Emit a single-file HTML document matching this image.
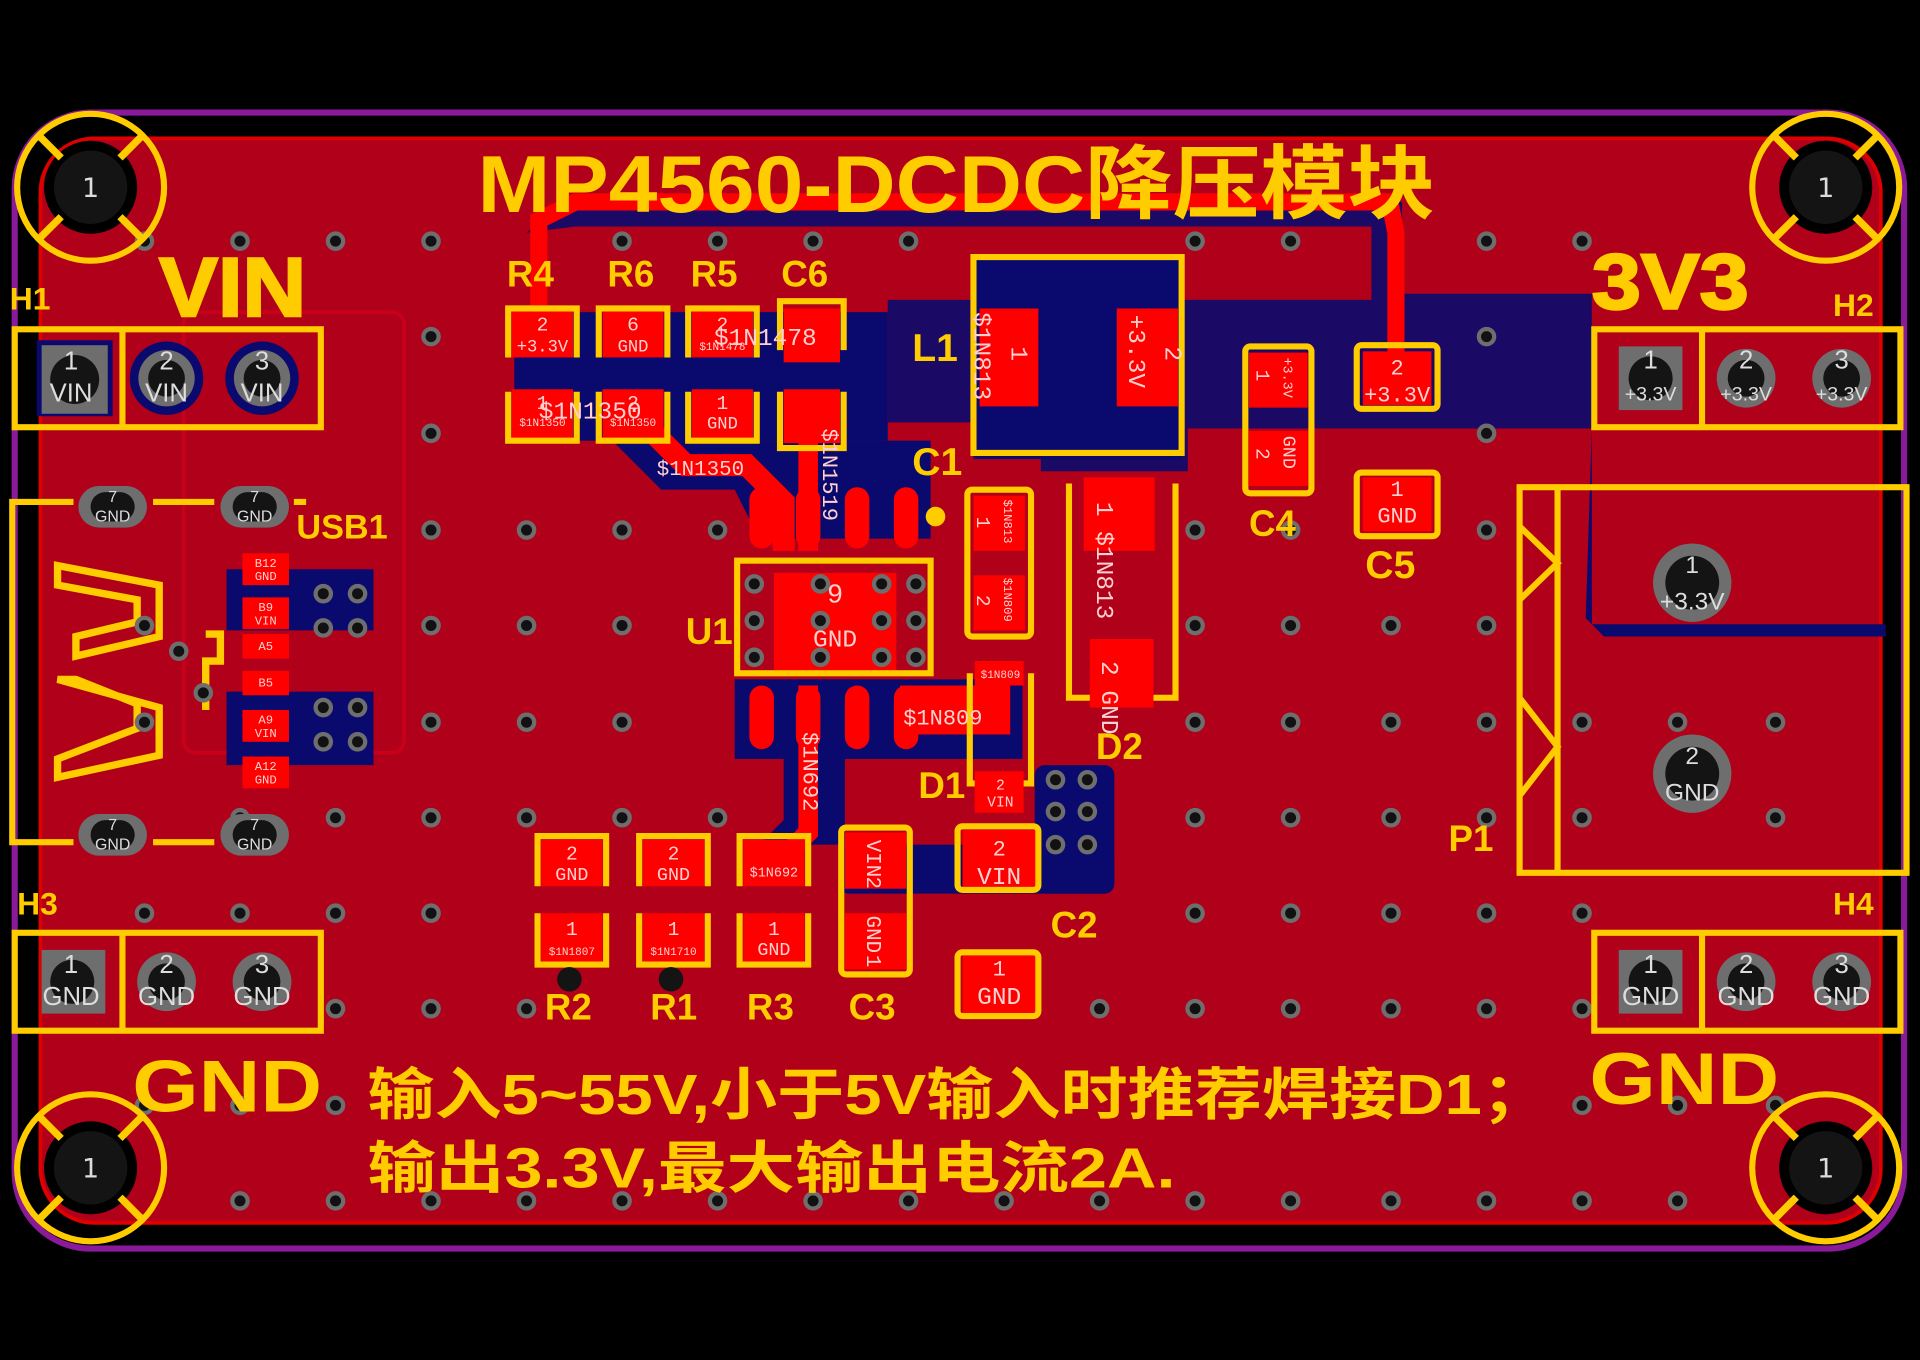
<!DOCTYPE html>
<html><head><meta charset="utf-8"><style>
html,body{margin:0;padding:0;background:#000;}
svg{display:block}
text{font-family:"Liberation Sans","Noto Sans CJK SC",sans-serif}
text.m{font-family:"Liberation Mono","DejaVu Sans Mono",monospace;fill:#ffd0d0}
.y{fill:#ffcc00;font-weight:bold}
.s{fill:none;stroke:#ffcc00;stroke-width:5}
</style></head><body>
<svg width="1920" height="1360" viewBox="0 0 1568 1111" preserveAspectRatio="none" xmlns="http://www.w3.org/2000/svg">
<defs>
<g id="v"><circle r="8" fill="#6e6e6e"/><circle r="4.5" fill="#111"/></g>
<g id="mh"><circle r="60" fill="none" stroke="#ffcc00" stroke-width="5"/><circle r="38" fill="#000"/><circle r="30" fill="#141414"/>
<line x1="-44" y1="-44" x2="-24" y2="-24" stroke="#ffcc00" stroke-width="6"/><line x1="44" y1="-44" x2="24" y2="-24" stroke="#ffcc00" stroke-width="6"/>
<line x1="-44" y1="44" x2="-24" y2="24" stroke="#ffcc00" stroke-width="6"/><line x1="44" y1="44" x2="24" y2="24" stroke="#ffcc00" stroke-width="6"/>
<text y="8" text-anchor="middle" font-size="22" fill="#ddd" style="font-family:'DejaVu Sans',sans-serif">1</text></g>
</defs>
<rect width="1568" height="1111" fill="#000"/>
<rect x="12" y="92" width="1543" height="928" rx="62" fill="#000" stroke="#8a1a9a" stroke-width="5"/>
<rect x="33" y="113" width="1503" height="886" rx="44" fill="#b0001a" stroke="#e00000" stroke-width="3"/>
<rect x="150" y="255" width="180" height="360" rx="10" fill="none" stroke="#c8001a" stroke-width="3"/>
<!-- blue copper areas -->
<path d="M430 190 L460 165 L1145 165 L1145 240 L1300 240 L1300 350 L970 350 L970 385 L850 385 L850 345 L725 345 L725 245 L1120 245 L1120 185 L470 185 Z" fill="#0a0a6e" opacity="0.9"/>
<path d="M1300 350 L1300 510 L1540 510 L1540 520 L1310 520 L1295 505 Z" fill="#0a0a6e"/>
<rect x="795" y="210" width="170" height="165" fill="#0a0a6e"/>
<rect x="420" y="255" width="305" height="105" fill="#0a0a6e"/>
<path d="M500 360 L540 400 L600 400 L620 440 L760 440 L760 360 Z" fill="#0a0a6e"/>
<rect x="600" y="555" width="235" height="65" fill="#0a0a6e"/>
<path d="M640 555 L640 670 L620 690 L690 690 L690 555 Z" fill="#0a0a6e"/>
<rect x="845" y="625" width="65" height="105" rx="8" fill="#0a0a6e"/>
<rect x="685" y="690" width="225" height="40" rx="8" fill="#0a0a6e"/>
<path d="M185 465 h120 v50 h-120 z M185 565 h120 v60 h-120 z" fill="#0a0a6e"/>
<!-- red traces -->
<path d="M440 285 L440 180 L470 165 L1135 165 L1140 190 L1140 295" fill="none" stroke="#ff0000" stroke-width="14"/>
<path d="M510 330 L560 380 L610 380 L640 410 L640 450" fill="none" stroke="#ff0000" stroke-width="18"/>
<path d="M660 340 L660 450" stroke="#ff0000" stroke-width="16"/>
<path d="M660 560 L660 680 L640 700" fill="none" stroke="#ff0000" stroke-width="16"/>
<rect x="735" y="560" width="90" height="40" fill="#ff0000"/>
<!-- vias grid -->
<g>
<use href="#v" x="118" y="197"/><use href="#v" x="196" y="197"/><use href="#v" x="274" y="197"/><use href="#v" x="352" y="197"/><use href="#v" x="508" y="197"/><use href="#v" x="586" y="197"/><use href="#v" x="664" y="197"/><use href="#v" x="742" y="197"/><use href="#v" x="976" y="197"/><use href="#v" x="1054" y="197"/><use href="#v" x="1214" y="197"/><use href="#v" x="1292" y="197"/>
<use href="#v" x="352" y="275"/><use href="#v" x="352" y="354"/><use href="#v" x="1214" y="275"/><use href="#v" x="1214" y="354"/>
<use href="#v" x="352" y="433"/><use href="#v" x="430" y="433"/><use href="#v" x="508" y="433"/><use href="#v" x="586" y="433"/><use href="#v" x="976" y="433"/><use href="#v" x="1054" y="433"/><use href="#v" x="1214" y="433"/>
<use href="#v" x="352" y="511"/><use href="#v" x="430" y="511"/><use href="#v" x="508" y="511"/><use href="#v" x="976" y="511"/><use href="#v" x="1054" y="511"/><use href="#v" x="1136" y="511"/><use href="#v" x="1214" y="511"/>
<use href="#v" x="352" y="590"/><use href="#v" x="430" y="590"/><use href="#v" x="508" y="590"/><use href="#v" x="976" y="590"/><use href="#v" x="1054" y="590"/><use href="#v" x="1136" y="590"/><use href="#v" x="1214" y="590"/><use href="#v" x="1292" y="590"/><use href="#v" x="1370" y="590"/><use href="#v" x="1450" y="590"/>
<use href="#v" x="196" y="668"/><use href="#v" x="274" y="668"/><use href="#v" x="352" y="668"/><use href="#v" x="430" y="668"/><use href="#v" x="508" y="668"/><use href="#v" x="586" y="668"/><use href="#v" x="976" y="668"/><use href="#v" x="1054" y="668"/><use href="#v" x="1136" y="668"/><use href="#v" x="1214" y="668"/><use href="#v" x="1292" y="668"/><use href="#v" x="1450" y="668"/>
<use href="#v" x="118" y="746"/><use href="#v" x="196" y="746"/><use href="#v" x="274" y="746"/><use href="#v" x="352" y="746"/><use href="#v" x="976" y="746"/><use href="#v" x="1054" y="746"/><use href="#v" x="1136" y="746"/><use href="#v" x="1214" y="746"/><use href="#v" x="1292" y="746"/>
<use href="#v" x="274" y="824"/><use href="#v" x="352" y="824"/><use href="#v" x="430" y="824"/><use href="#v" x="898" y="824"/><use href="#v" x="976" y="824"/><use href="#v" x="1054" y="824"/><use href="#v" x="1136" y="824"/><use href="#v" x="1214" y="824"/><use href="#v" x="1292" y="824"/>
<use href="#v" x="118" y="903"/><use href="#v" x="196" y="903"/><use href="#v" x="274" y="903"/><use href="#v" x="1292" y="903"/><use href="#v" x="1370" y="903"/><use href="#v" x="1450" y="903"/>
<use href="#v" x="196" y="981"/><use href="#v" x="274" y="981"/><use href="#v" x="352" y="981"/><use href="#v" x="430" y="981"/><use href="#v" x="508" y="981"/><use href="#v" x="586" y="981"/><use href="#v" x="664" y="981"/><use href="#v" x="742" y="981"/><use href="#v" x="820" y="981"/><use href="#v" x="898" y="981"/><use href="#v" x="976" y="981"/><use href="#v" x="1054" y="981"/><use href="#v" x="1136" y="981"/><use href="#v" x="1214" y="981"/><use href="#v" x="1292" y="981"/><use href="#v" x="1370" y="981"/>
</g>
<use href="#mh" x="74" y="153"/><use href="#mh" x="1491" y="153"/><use href="#mh" x="74" y="954"/><use href="#mh" x="1491" y="954"/>
<!-- titles -->
<text x="390" y="173" font-size="66" class="y" textLength="782" lengthAdjust="spacingAndGlyphs">MP4560-DCDC降压模块</text>
<text x="130" y="258" font-size="68" class="y" textLength="120" lengthAdjust="spacingAndGlyphs" stroke="#ffcc00" stroke-width="2">VIN</text>
<text x="1300" y="252" font-size="64" class="y" textLength="128" lengthAdjust="spacingAndGlyphs" stroke="#ffcc00" stroke-width="2">3V3</text>
<text x="108" y="908" font-size="60" class="y" textLength="155" lengthAdjust="spacingAndGlyphs">GND</text>
<text x="1298" y="902" font-size="60" class="y" textLength="155" lengthAdjust="spacingAndGlyphs">GND</text>
<text x="300" y="910" font-size="46" class="y" textLength="965" lengthAdjust="spacingAndGlyphs">输入5~55V,小于5V输入时推荐焊接D1；</text>
<text x="300" y="970" font-size="46" class="y" textLength="660" lengthAdjust="spacingAndGlyphs">输出3.3V,最大输出电流2A.</text>
<!-- headers -->
<g font-size="24">
<text x="8" y="253" class="y" font-size="26">H1</text>
<rect x="12" y="269" width="250" height="80" class="s"/><line x1="100" y1="269" x2="100" y2="349" class="s"/>
<rect x="30" y="278" width="62" height="62" fill="#0a0a6e"/><rect x="34" y="282" width="54" height="56" fill="#6e6e6e"/><circle cx="61" cy="310" r="20" fill="#141414"/>
<circle cx="136" cy="309" r="30" fill="#0a0a6e"/><circle cx="136" cy="309" r="23" fill="#6e6e6e"/><circle cx="136" cy="309" r="15" fill="#141414"/>
<circle cx="214" cy="309" r="30" fill="#0a0a6e"/><circle cx="214" cy="309" r="23" fill="#6e6e6e"/><circle cx="214" cy="309" r="15" fill="#141414"/>
<g fill="#ddd" text-anchor="middle" font-size="21" style="font-family:'DejaVu Sans',sans-serif"><text x="58" y="302">1</text><text x="58" y="328">VIN</text><text x="136" y="302">2</text><text x="136" y="328">VIN</text><text x="214" y="302">3</text><text x="214" y="328">VIN</text></g>
<text x="14" y="747" class="y" font-size="26">H3</text>
<rect x="12" y="762" width="250" height="80" class="s"/><line x1="100" y1="762" x2="100" y2="842" class="s"/>
<rect x="34" y="776" width="52" height="52" fill="#6e6e6e"/><circle cx="59" cy="802" r="18" fill="#141414"/>
<circle cx="136" cy="802" r="24" fill="#6e6e6e"/><circle cx="136" cy="802" r="15" fill="#141414"/>
<circle cx="214" cy="802" r="24" fill="#6e6e6e"/><circle cx="214" cy="802" r="15" fill="#141414"/>
<g fill="#ddd" text-anchor="middle" font-size="21" style="font-family:'DejaVu Sans',sans-serif"><text x="58" y="795">1</text><text x="58" y="821">GND</text><text x="136" y="795">2</text><text x="136" y="821">GND</text><text x="214" y="795">3</text><text x="214" y="821">GND</text></g>
<text x="1497" y="258" class="y" font-size="26">H2</text>
<rect x="1302" y="269" width="250" height="80" class="s"/><line x1="1390" y1="269" x2="1390" y2="349" class="s"/>
<rect x="1322" y="283" width="52" height="52" fill="#6e6e6e"/><circle cx="1348" cy="309" r="18" fill="#141414"/>
<circle cx="1426" cy="309" r="24" fill="#6e6e6e"/><circle cx="1426" cy="309" r="15" fill="#141414"/>
<circle cx="1504" cy="309" r="24" fill="#6e6e6e"/><circle cx="1504" cy="309" r="15" fill="#141414"/>
<g fill="#ddd" text-anchor="middle" font-size="16" style="font-family:'DejaVu Sans',sans-serif"><text x="1348" y="301" font-size="21">1</text><text x="1348" y="327">+3.3V</text><text x="1426" y="301" font-size="21">2</text><text x="1426" y="327">+3.3V</text><text x="1504" y="301" font-size="21">3</text><text x="1504" y="327">+3.3V</text></g>
<text x="1497" y="747" class="y" font-size="26">H4</text>
<rect x="1302" y="762" width="250" height="80" class="s"/><line x1="1390" y1="762" x2="1390" y2="842" class="s"/>
<rect x="1322" y="776" width="52" height="52" fill="#6e6e6e"/><circle cx="1348" cy="802" r="18" fill="#141414"/>
<circle cx="1426" cy="802" r="24" fill="#6e6e6e"/><circle cx="1426" cy="802" r="15" fill="#141414"/>
<circle cx="1504" cy="802" r="24" fill="#6e6e6e"/><circle cx="1504" cy="802" r="15" fill="#141414"/>
<g fill="#ddd" text-anchor="middle" font-size="21" style="font-family:'DejaVu Sans',sans-serif"><text x="1348" y="795">1</text><text x="1348" y="821">GND</text><text x="1426" y="795">2</text><text x="1426" y="821">GND</text><text x="1504" y="795">3</text><text x="1504" y="821">GND</text></g>
</g>
<!-- USB -->
<path d="M60 410 H10 V688 H60 M125 410 H175 M240 410 H250 M125 688 H175" class="s"/>
<g fill="#6e6e6e"><rect x="64" y="397" width="56" height="34" rx="17"/><rect x="180" y="397" width="56" height="34" rx="17"/><rect x="64" y="665" width="56" height="34" rx="17"/><rect x="180" y="665" width="56" height="34" rx="17"/></g>
<g fill="#141414"><rect x="74" y="402" width="36" height="24" rx="12"/><rect x="190" y="402" width="36" height="24" rx="12"/><rect x="74" y="670" width="36" height="24" rx="12"/><rect x="190" y="670" width="36" height="24" rx="12"/></g>
<g fill="#ddd" text-anchor="middle" font-size="13" style="font-family:'DejaVu Sans',sans-serif"><text x="92" y="410">7</text><text x="92" y="426">GND</text><text x="208" y="410">7</text><text x="208" y="426">GND</text><text x="92" y="678">7</text><text x="92" y="694">GND</text><text x="208" y="678">7</text><text x="208" y="694">GND</text></g>
<path d="M47 462 L130 478 L130 520 L62 536 L62 520 L112 508 L112 490 L47 478 Z M47 555 L62 555 L112 575 L112 595 L47 620 L47 635 L130 617 L130 578 Z" fill="none" stroke="#ffcc00" stroke-width="6"/>
<g fill="#ff0000"><rect x="198" y="452" width="38" height="26"/><rect x="198" y="488" width="38" height="26"/><rect x="198" y="518" width="38" height="20"/><rect x="198" y="548" width="38" height="20"/><rect x="198" y="580" width="38" height="26"/><rect x="198" y="618" width="38" height="26"/></g>
<g class="m" text-anchor="middle" font-size="10"><text class="m" x="217" y="463">B12</text><text class="m" x="217" y="474">GND</text><text class="m" x="217" y="499">B9</text><text class="m" x="217" y="510">VIN</text><text class="m" x="217" y="531">A5</text><text class="m" x="217" y="561">B5</text><text class="m" x="217" y="591">A9</text><text class="m" x="217" y="602">VIN</text><text class="m" x="217" y="629">A12</text><text class="m" x="217" y="640">GND</text></g>
<path d="M168 518 H180 V540 H168 V580" fill="none" stroke="#ffcc00" stroke-width="6"/>
<use href="#v" x="118" y="511"/><use href="#v" x="118" y="590"/><use href="#v" x="146" y="532"/><use href="#v" x="166" y="566"/>
<use href="#v" x="264" y="485"/><use href="#v" x="292" y="485"/><use href="#v" x="264" y="513"/><use href="#v" x="292" y="513"/><use href="#v" x="264" y="578"/><use href="#v" x="292" y="578"/><use href="#v" x="264" y="606"/><use href="#v" x="292" y="606"/>
<text x="242" y="440" class="y" font-size="28">USB1</text>
<!-- R4 R6 R5 C6 -->
<g class="y" font-size="30"><text x="414" y="234">R4</text><text x="496" y="234">R6</text><text x="564" y="234">R5</text><text x="638" y="234">C6</text></g>
<g fill="#ff0000"><rect x="418" y="254" width="50" height="38"/><rect x="492" y="254" width="50" height="38"/><rect x="565" y="254" width="50" height="38"/><rect x="640" y="252" width="46" height="44"/>
<rect x="418" y="318" width="50" height="40"/><rect x="492" y="318" width="50" height="40"/><rect x="565" y="318" width="50" height="40"/><rect x="640" y="318" width="46" height="44"/></g>
<g class="s"><path d="M415 292 V252 H471 V292 M489 292 V252 H545 V292 M562 292 V252 H618 V292 M637 286 V246 H689 V286"/><path d="M415 320 V360 H471 V320 M489 320 V360 H545 V320 M562 320 V360 H618 V320 M637 320 V366 H689 V320"/></g>
<g text-anchor="middle"><text class="m" x="443" y="270" font-size="16">2</text><text class="m" x="443" y="287" font-size="14">+3.3V</text><text class="m" x="517" y="270" font-size="16">6</text><text class="m" x="517" y="287" font-size="14">GND</text><text class="m" x="590" y="270" font-size="16">2</text><text class="m" x="590" y="286" font-size="9">$1N1478</text>
<text class="m" x="443" y="334" font-size="16">1</text><text class="m" x="443" y="348" font-size="9">$1N1350</text><text class="m" x="517" y="334" font-size="16">2</text><text class="m" x="517" y="348" font-size="9">$1N1350</text><text class="m" x="590" y="334" font-size="16">1</text><text class="m" x="590" y="350" font-size="14">GND</text>
<text class="m" x="482" y="342" font-size="20">$1N1350</text><text class="m" x="572" y="388" font-size="17">$1N1350</text><text class="m" x="625" y="282" font-size="20">$1N1478</text></g>
<text class="m" font-size="18" transform="translate(672 350) rotate(90)">$1N1519</text>
<!-- U1 -->
<g fill="#ff0000"><rect x="612" y="398" width="20" height="50" rx="10"/><rect x="650" y="398" width="20" height="50" rx="10"/><rect x="690" y="398" width="20" height="50" rx="10"/><rect x="730" y="398" width="20" height="50" rx="10"/>
<rect x="612" y="560" width="20" height="52" rx="10"/><rect x="650" y="560" width="20" height="52" rx="10"/><rect x="690" y="560" width="20" height="52" rx="10"/><rect x="730" y="560" width="20" height="52" rx="10"/>
<rect x="632" y="468" width="100" height="80"/></g>
<rect x="602" y="458" width="158" height="92" class="s"/>
<circle cx="764" cy="422" r="8" fill="#ffcc00"/>
<text x="560" y="526" class="y" font-size="30">U1</text>
<g text-anchor="middle"><text class="m" x="682" y="492" font-size="22">9</text><text class="m" x="682" y="528" font-size="20">GND</text></g>
<use href="#v" x="616" y="477"/><use href="#v" x="670" y="477"/><use href="#v" x="720" y="477"/><use href="#v" x="748" y="477"/><use href="#v" x="616" y="507"/><use href="#v" x="670" y="507"/><use href="#v" x="720" y="507"/><use href="#v" x="748" y="507"/><use href="#v" x="616" y="537"/><use href="#v" x="670" y="537"/><use href="#v" x="720" y="537"/><use href="#v" x="748" y="537"/>
<!-- L1 -->
<text x="745" y="295" class="y" font-size="32">L1</text>
<rect x="795" y="210" width="170" height="160" class="s"/>
<rect x="800" y="252" width="48" height="80" fill="#ff0000"/><rect x="912" y="252" width="50" height="80" fill="#ff0000"/>
<text class="m" font-size="20" transform="translate(796 255) rotate(90)">$1N813</text>
<text class="m" font-size="20" transform="translate(826 283) rotate(90)">1</text>
<text class="m" font-size="20" transform="translate(922 257) rotate(90)">+3.3V</text>
<text class="m" font-size="20" transform="translate(952 283) rotate(90)">2</text>
<!-- C1 -->
<text x="745" y="388" class="y" font-size="32">C1</text>
<rect x="790" y="400" width="52" height="120" class="s" rx="4"/>
<rect x="795" y="405" width="42" height="45" fill="#ff0000"/><rect x="795" y="470" width="42" height="45" fill="#ff0000"/>
<text class="m" font-size="16" transform="translate(798 422) rotate(90)">1</text>
<text class="m" font-size="10" transform="translate(820 408) rotate(90)">$1N813</text>
<text class="m" font-size="16" transform="translate(798 486) rotate(90)">2</text>
<text class="m" font-size="10" transform="translate(820 472) rotate(90)">$1N809</text>
<!-- D2 -->
<path d="M873 395 V570 H960 V395" class="s"/>
<rect x="885" y="390" width="58" height="60" fill="#ff0000"/><rect x="890" y="522" width="52" height="56" fill="#ff0000"/>
<text class="m" font-size="20" transform="translate(896 410) rotate(90)">1 $1N813</text>
<text class="m" font-size="20" transform="translate(900 540) rotate(90)">2 GND</text>
<text x="895" y="620" class="y" font-size="30">D2</text>
<!-- D1 -->
<path d="M792 550 V640 H842 V550" class="s"/>
<rect x="796" y="540" width="40" height="20" fill="#ff0000"/><rect x="796" y="630" width="40" height="34" fill="#ff0000"/>
<g text-anchor="middle"><text class="m" x="817" y="554" font-size="9">$1N809</text><text class="m" x="817" y="645" font-size="12">2</text><text class="m" x="817" y="659" font-size="12">VIN</text><text class="m" x="770" y="592" font-size="18">$1N809</text></g>
<text x="750" y="652" class="y" font-size="30">D1</text>
<use href="#v" x="862" y="637"/><use href="#v" x="888" y="637"/><use href="#v" x="862" y="663"/><use href="#v" x="888" y="663"/><use href="#v" x="862" y="690"/><use href="#v" x="888" y="690"/>
<!-- C4 C5 -->
<rect x="1017" y="283" width="54" height="120" rx="4" class="s"/>
<rect x="1020" y="288" width="48" height="45" fill="#ff0000"/><rect x="1020" y="352" width="48" height="45" fill="#ff0000"/>
<text class="m" font-size="16" transform="translate(1026 302) rotate(90)">1</text>
<text class="m" font-size="11" transform="translate(1048 292) rotate(90)">+3.3V</text>
<text class="m" font-size="16" transform="translate(1026 366) rotate(90)">2</text>
<text class="m" font-size="15" transform="translate(1048 356) rotate(90)">GND</text>
<text x="1020" y="438" class="y" font-size="30">C4</text>
<rect x="1108" y="282" width="66" height="52" rx="4" class="s"/><rect x="1113" y="287" width="56" height="44" fill="#ff0000"/>
<g text-anchor="middle" font-size="18"><text class="m" x="1141" y="306">2</text><text class="m" x="1141" y="328">+3.3V</text></g>
<rect x="1108" y="386" width="66" height="52" rx="4" class="s"/><rect x="1113" y="390" width="56" height="44" fill="#ff0000"/>
<g text-anchor="middle" font-size="18"><text class="m" x="1141" y="405">1</text><text class="m" x="1141" y="427">GND</text></g>
<text x="1115" y="472" class="y" font-size="32">C5</text>
<!-- P1 -->
<rect x="1241" y="398" width="316" height="315" class="s"/><line x1="1272" y1="398" x2="1272" y2="713" class="s"/>
<path d="M1241 430 L1272 460 L1241 490 M1241 570 L1272 610 L1241 650" class="s"/>
<circle cx="1382" cy="476" r="32" fill="#6e6e6e"/><circle cx="1382" cy="476" r="22" fill="#141414"/>
<circle cx="1382" cy="632" r="32" fill="#6e6e6e"/><circle cx="1382" cy="632" r="22" fill="#141414"/>
<g fill="#ddd" text-anchor="middle" font-size="20" style="font-family:'DejaVu Sans',sans-serif"><text x="1382" y="468">1</text><text x="1382" y="498">+3.3V</text><text x="1382" y="624">2</text><text x="1382" y="654">GND</text></g>
<text x="1183" y="695" class="y" font-size="30">P1</text>
<!-- bottom -->
<g fill="#ff0000"><rect x="442" y="686" width="50" height="38"/><rect x="525" y="686" width="50" height="38"/><rect x="607" y="686" width="50" height="38"/>
<rect x="442" y="746" width="50" height="40"/><rect x="525" y="746" width="50" height="40"/><rect x="607" y="746" width="50" height="40"/>
<rect x="690" y="680" width="50" height="46"/><rect x="690" y="746" width="50" height="46"/><rect x="786" y="678" width="60" height="48"/><rect x="786" y="780" width="60" height="48"/></g>
<g class="s"><path d="M439 724 V683 H495 V724 M522 724 V683 H578 V724 M604 724 V683 H660 V724"/><path d="M439 746 V788 H495 V746 M522 746 V788 H578 V746 M604 746 V788 H660 V746"/>
<rect x="687" y="676" width="56" height="120" rx="4"/><rect x="782" y="675" width="66" height="52" rx="4"/><rect x="782" y="778" width="66" height="52" rx="4"/></g>
<g text-anchor="middle"><text class="m" x="467" y="702" font-size="16">2</text><text class="m" x="467" y="719" font-size="15">GND</text><text class="m" x="550" y="702" font-size="16">2</text><text class="m" x="550" y="719" font-size="15">GND</text><text class="m" x="632" y="716" font-size="11">$1N692</text>
<text class="m" x="467" y="764" font-size="16">1</text><text class="m" x="467" y="780" font-size="9">$1N1807</text><text class="m" x="550" y="764" font-size="16">1</text><text class="m" x="550" y="780" font-size="9">$1N1710</text><text class="m" x="632" y="764" font-size="16">1</text><text class="m" x="632" y="780" font-size="15">GND</text>
<text class="m" x="816" y="699" font-size="18">2</text><text class="m" x="816" y="722" font-size="20">VIN</text><text class="m" x="816" y="797" font-size="18">1</text><text class="m" x="816" y="820" font-size="20">GND</text></g>
<text class="m" font-size="17" transform="translate(708 686) rotate(90)">VIN</text>
<text class="m" font-size="17" transform="translate(708 716) rotate(90)">2</text>
<text class="m" font-size="17" transform="translate(708 748) rotate(90)">GND</text>
<text class="m" font-size="17" transform="translate(708 780) rotate(90)">1</text>
<text class="m" font-size="18" transform="translate(656 598) rotate(90)">$1N692</text>
<circle cx="465" cy="800" r="10" fill="#141414"/><circle cx="548" cy="800" r="10" fill="#141414"/>
<g class="y" font-size="30"><text x="445" y="833">R2</text><text x="531" y="833">R1</text><text x="610" y="833">R3</text><text x="693" y="833">C3</text><text x="858" y="766">C2</text></g>
</svg>
</body></html>
